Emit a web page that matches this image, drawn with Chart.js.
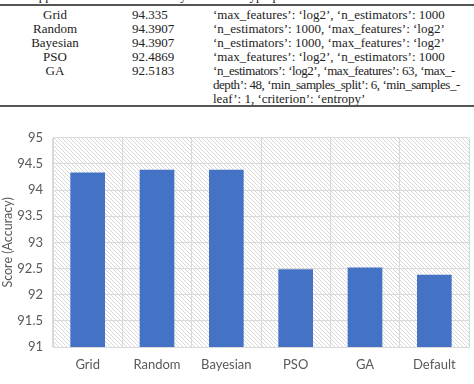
<!DOCTYPE html>
<html>
<head>
<meta charset="utf-8">
<script src="https://cdn.jsdelivr.net/npm/chart.js@4"></script>
<style>
  body { margin: 0; background: #fff; width: 474px; height: 384px; overflow: hidden; position: relative; }
  .t { position: absolute; font-family: "Liberation Serif", serif; font-size: 13px; color: #222; line-height: 14px; white-space: nowrap; }
  .c1 { left: 0; width: 110px; text-align: center; }
  .c2 { left: 132px; }
  .c3 { left: 213px; }
  .j { width: 242px; text-align: justify; text-align-last: justify; letter-spacing: -0.45px; }
  .rule { position: absolute; left: 0; width: 474px; background: #555; }
  #wrap { position: absolute; left: 0; top: 120px; width: 474px; height: 264px; }
</style>
</head>
<body>
<div class="t c1" style="top:-11px">Approach</div>
<div class="t c2" style="top:-11px;left:137px">Accuracy</div>
<div class="t c3" style="top:-11px;left:240px">Hyperparameters</div>
<div class="rule" style="top:4px;height:2px"></div>
<div id="table"></div>
<div class="rule" style="top:105px;height:2px"></div>
<div id="wrap"><canvas id="scoreChart"></canvas></div>
<script>
const approaches = ['Grid', 'Random', 'Bayesian', 'PSO', 'GA', 'Default'];
const accuracy = [94.335, 94.3907, 94.3907, 92.4869, 92.5183, 92.38];
const tableAccuracy = ['94.335', '94.3907', '94.3907', '92.4869', '92.5183'];
const hyperparams = [
  ['‘max_features’: ‘log2’, ‘n_estimators’: 1000'],
  ['‘n_estimators’: 1000, ‘max_features’: ‘log2’'],
  ['‘n_estimators’: 1000, ‘max_features’: ‘log2’'],
  ['‘max_features’: ‘log2’, ‘n_estimators’: 1000'],
  ['‘n_estimators’: ‘log2’, ‘max_features’: 63, ‘max_-',
   'depth’: 48, ‘min_samples_split’: 6, ‘min_samples_-',
   'leaf’: 1, ‘criterion’: ‘entropy’']
];
const yTicks = [91, 91.5, 92, 92.5, 93, 93.5, 94, 94.5, 95];

// table rows
const table = document.getElementById('table');
let rowTop = 8;
for (let i = 0; i < tableAccuracy.length; i++) {
  const lines = hyperparams[i];
  let html = `<div class="t c1" style="top:${rowTop}px">${approaches[i]}</div>`;
  html += `<div class="t c2" style="top:${rowTop}px">${tableAccuracy[i]}</div>`;
  lines.forEach((line, k) => {
    const just = k < lines.length - 1 ? ' j' : '';
    html += `<div class="t c3${just}" style="top:${rowTop + k * 14}px">${line}</div>`;
  });
  table.insertAdjacentHTML('beforeend', html);
  rowTop += 14 * lines.length;
}

// diagonal hatch behind the plot area
const makeHatch = () => {
  const c = document.createElement('canvas');
  c.width = 4; c.height = 4;
  const g = c.getContext('2d');
  g.fillStyle = '#fff';
  g.fillRect(0, 0, 4, 4);
  g.strokeStyle = '#d8d8d8';
  g.lineWidth = 1;
  g.beginPath();
  g.moveTo(-1, -1); g.lineTo(5, 5);
  g.moveTo(-1, 3); g.lineTo(1, 5);
  g.moveTo(3, -1); g.lineTo(5, 1);
  g.stroke();
  return g.createPattern(c, 'repeat');
};

const hatchPlugin = {
  id: 'hatch',
  beforeDraw(chart) {
    const { ctx, chartArea: a } = chart;
    ctx.save();
    ctx.fillStyle = makeHatch();
    ctx.fillRect(a.left, a.top, a.right - a.left, a.bottom - a.top);
    ctx.restore();
  }
};

const axisFont = { family: 'Lato', size: 13 };

const ctx = document.getElementById('scoreChart').getContext('2d');
new Chart(ctx, {
  type: 'bar',
  data: {
    labels: approaches,
    datasets: [{
      data: accuracy,
      backgroundColor: '#4472C4',
      barPercentage: 0.5,
      categoryPercentage: 1
    }]
  },
  options: {
    responsive: true,
    maintainAspectRatio: false,
    animation: false,
    layout: { padding: { top: 14, right: 5, left: 0, bottom: 0 } },
    plugins: { legend: { display: false }, tooltip: { enabled: false } },
    scales: {
      x: {
        afterFit: s => { s.height = 37; },
        grid: { color: '#d9d9d9', drawTicks: false, offset: true },
        border: { color: '#d9d9d9' },
        ticks: { color: '#595959', padding: 10, font: axisFont }
      },
      y: {
        min: 91,
        max: 95,
        afterFit: s => { s.width = 53; },
        afterBuildTicks: s => { s.ticks = yTicks.map(v => ({ value: v })); },
        grid: { color: '#d9d9d9', drawTicks: false },
        border: { color: '#d9d9d9' },
        ticks: { color: '#595959', padding: 10, font: axisFont, callback: v => String(v) },
        title: {
          display: true,
          text: 'Score (Accuracy)',
          color: '#595959',
          padding: 0,
          font: { family: 'Lato', size: 12.5 }
        }
      }
    }
  },
  plugins: [hatchPlugin]
});
</script>
</body>
</html>
